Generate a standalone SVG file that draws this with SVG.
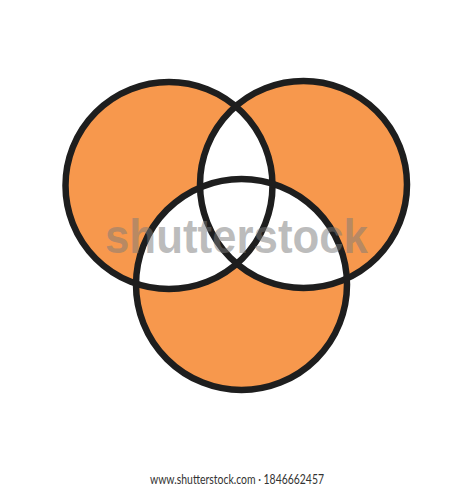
<svg xmlns="http://www.w3.org/2000/svg" width="474" height="489" viewBox="0 0 474 489">
  <style>
    .fillc { fill: #F7984D; }
    .white { fill: #FFFFFF; }
    .ring { fill: none; stroke: #1E1E1E; stroke-width: 6.5; }
    .wm { font-family: "Liberation Sans", Arial, sans-serif; font-weight: bold; font-size: 48px; fill: #7A7A7A; fill-opacity: 0.5; }
    .credit { font-family: "Lato", "Liberation Sans", sans-serif; font-size: 13px; fill: #333333; }
  </style>
  <defs>
    <circle id="cA" cx="169" cy="185.5" r="103.5"/>
    <circle id="cB" cx="303.5" cy="184.5" r="103.5"/>
    <circle id="cC" cx="241.5" cy="284.5" r="105.5"/>
    <clipPath id="clipA"><use href="#cA"/></clipPath>
    <clipPath id="clipB"><use href="#cB"/></clipPath>
  </defs>
  <rect width="474" height="489" fill="#FFFFFF"/>
  <g id="fills">
    <use href="#cA" class="fillc"/>
    <use href="#cB" class="fillc"/>
    <use href="#cC" class="fillc"/>
    <g clip-path="url(#clipA)">
      <use href="#cB" class="white"/>
      <use href="#cC" class="white"/>
    </g>
    <g clip-path="url(#clipB)">
      <use href="#cC" class="white"/>
    </g>
  </g>
  <g id="circle-left"><use href="#cA" class="ring"/></g>
  <g id="circle-right"><use href="#cB" class="ring"/></g>
  <g id="circle-bottom"><use href="#cC" class="ring"/></g>
  <g id="connectors"/>
  <text class="wm" x="105" y="253" textLength="263" lengthAdjust="spacingAndGlyphs">shutterstock</text>
  <text class="credit" x="150" y="484" textLength="174" lengthAdjust="spacingAndGlyphs">www.shutterstock.com · 1846662457</text>
</svg>
